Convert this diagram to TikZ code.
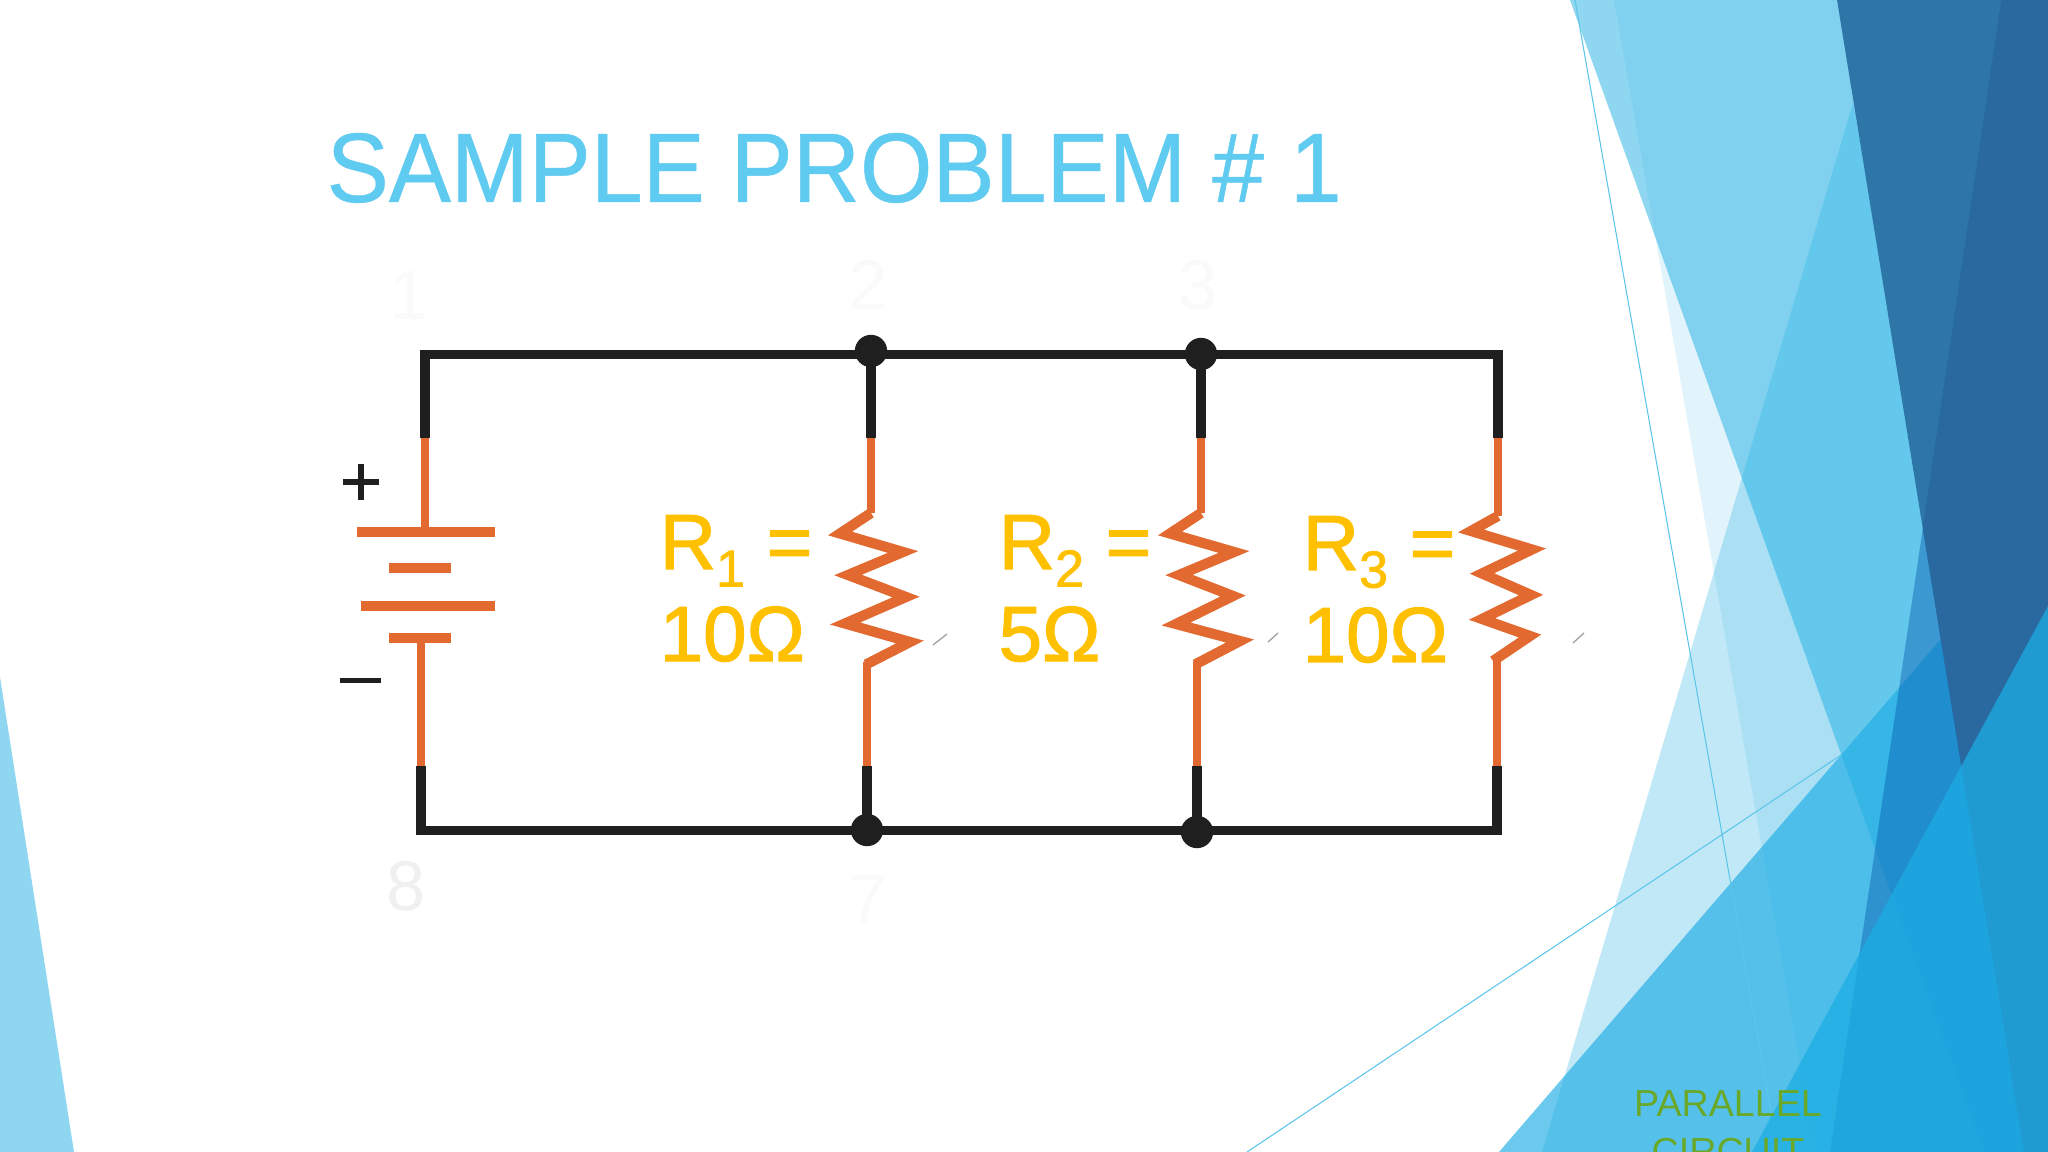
\documentclass[tikz,border=0pt]{standalone}
\usepackage{fontspec}
\setmainfont{Liberation Sans}
\newfontfamily\labelfont{Liberation Sans}[FakeBold=1.5]
\newfontfamily\titlefont{Liberation Sans}[FakeBold=0.5]
\definecolor{facetblue}{HTML}{1CADE4}
\definecolor{facetdeep}{HTML}{0457AD}
\definecolor{facetdark}{HTML}{2E76A7}
\definecolor{facetnavy}{HTML}{29699F}
\definecolor{titleblue}{HTML}{5FCBF0}
\definecolor{hairblue}{HTML}{5BC5EA}
\definecolor{wireblack}{HTML}{1F1F1F}
\definecolor{wireorange}{HTML}{E2692F}
\definecolor{labelgold}{HTML}{FFC000}
\definecolor{labelgreen}{HTML}{6AA82A}
\newcommand{\rsub}[1]{\raisebox{-5pt}{\fontsize{14.8}{15}\selectfont #1}}
\tikzset{
    facet/.style={fill=facetblue,fill opacity=#1,draw=none},
    hair/.style={draw=hairblue,line width=0.3pt},
    wire/.style={draw=wireblack,line width=2.7pt,line join=miter},
    lead/.style={draw=wireorange,line width=2.3pt},
    plate/.style={draw=wireorange,line width=3.1pt},
    zig/.style={draw=wireorange,line width=2.9pt,line join=miter},
    dot/.style={circle,fill=wireblack,minimum size=9.2pt,inner sep=0pt},
    sign/.style={draw=wireblack,line width=1.5pt},
    fleck/.style={draw=gray!70,line width=0.4pt},
    ghost/.style={font=\fontsize{20}{20}\selectfont,text=#1,inner sep=0pt},
    reslabel/.style={anchor=base west,inner sep=0pt,text=labelgold,font=\labelfont\fontsize{22.2}{24}\selectfont}
}
\begin{document}
\begin{tikzpicture}[x=0.01cm,y=-0.01cm]
    \useasboundingbox (0,0) rectangle (2048,1152);
    \fill[white] (0,0) rectangle (2048,1152);

    % facets
    \fill[facet=0.49] (0,677) -- (74,1152) -- (0,1152) -- cycle;
    \fill[facet=0.13] (1614,0) -- (1815,1152) -- (2048,1152) -- (2048,0) -- cycle;
    \fill[facet=0.49] (1570,0) -- (1837,0) -- (2048,1152) -- (1984,1152) -- cycle;
    \fill[facet=0.27] (1853,103) -- (2048,1152) -- (1542,1152) -- cycle;
    \fill[facet=0.65] (1499,1152) -- (1941,639) -- (2024,1152) -- cycle;
    \fill[facetdark] (1837,0) -- (2048,0) -- (2048,1152) -- (2024,1152) -- cycle;
    \fill[facetdeep,fill opacity=0.42] (2001.5,0) -- (2048,0) -- (2048,1152) -- (1830,1152) -- cycle;
    \fill[facetnavy] (2001.5,0) -- (2048,0) -- (2048,1152) -- (2024,1152) -- (1923,529) -- cycle;
    \draw[hair] (1575,0) -- (1778,1152);
    \draw[hair] (1247,1152) -- (1841,755);
    \fill[facet=0.74] (2048,606) -- (2048,1152) -- (1752,1152) -- cycle;

    \node[anchor=base west,inner sep=0pt,text=titleblue,font=\titlefont\fontsize{26.5}{28}\selectfont] (title) at (326,202) {\scalebox{1}[1.06]{SAMPLE PROBLEM \# 1}};
    \node[anchor=base,inner sep=0pt,text=labelgreen,font=\fontsize{10.7}{13.6}\selectfont,align=center] (tag) at (1728,1164) {PARALLEL\\CIRCUIT};

    % faint digits
    \node[ghost=black!2] (g1) at (409,295) {1};
    \node[ghost=black!2] (g2) at (868,285) {2};
    \node[ghost=black!2] (g3) at (1198,285) {3};
    \node[ghost=black!6] (g8) at (406,886) {8};
    \node[ghost=black!2] (g7) at (868,899) {7};

    % corners and junctions
    \coordinate (tl) at (425,354.5);
    \coordinate (tr) at (1498,354.5);
    \coordinate (bl) at (421,830.5);
    \coordinate (br) at (1497,830.5);
    \coordinate (t1) at (871,354.5);
    \coordinate (t2) at (1201,354.5);
    \coordinate (b1) at (867,830.5);
    \coordinate (b2) at (1197,830.5);

    \draw[wire] (421,766) -- (bl) -- (b1) -- (b2) -- (br) -- (1497,766);
    \draw[wire] (425,438) -- (tl) -- (t1) -- (t2) -- (tr) -- (1498,438);
    \draw[wire] (t1) -- (871,438);
    \draw[wire] (t2) -- (1201,438);
    \draw[wire] (b1) -- (867,766);
    \draw[wire] (b2) -- (1197,766);
    \node[dot] (n1) at (871,351) {};
    \node[dot] (n2) at (1201,354) {};
    \node[dot] (n3) at (867,830) {};
    \node[dot] (n4) at (1197,832) {};

    % battery
    \draw[lead] (425,438) -- (425,530);
    \draw[plate] (357,532) -- (495,532);
    \draw[plate] (389,568) -- (451,568);
    \draw[plate] (361,606) -- (495,606);
    \draw[plate] (389,638) -- (451,638);
    \draw[lead] (421,638) -- (421,766);
    \draw[sign] (343,482) -- (379,482);
    \draw[sign] (361,464) -- (361,500);
    \draw[sign] (340,680.5) -- (381,680.5);

    % resistors
    \draw[lead] (871,438) -- (871,513);
    \draw[zig] (871,513) -- (840,533.5) -- (903,552) -- (848,575) -- (906,597) -- (845,623.5) -- (910,642) -- (866,664.5);
    \draw[lead] (867,662) -- (867,766);
    \draw[lead] (1201,438) -- (1201,513);
    \draw[zig] (1201,513) -- (1170,533.5) -- (1234,552) -- (1179,575) -- (1233,596) -- (1176,624) -- (1240,641) -- (1195,664.5);
    \draw[lead] (1197,662) -- (1197,766);
    \draw[lead] (1498,438) -- (1498,516);
    \draw[zig] (1498,516) -- (1471,531) -- (1532,549.5) -- (1482,573.5) -- (1531,595) -- (1482,619) -- (1530,636) -- (1493,661);
    \draw[lead] (1497,658) -- (1497,766);

    \foreach \x/\n/\v/\dy in {659/1/10Ω/0,998/2/5Ω/0,1302/3/10Ω/1} {
        \node[reslabel] (r\n) at (\x,569+\dy) {R\rsub{\n} =};
        \node[reslabel] (v\n) at (\x,661+\dy) {\v};
    }

    % specks
    \draw[fleck] (933,645) -- (947,634);
    \draw[fleck] (1268,642) -- (1278,633);
    \draw[fleck] (1573,643) -- (1584,633);
\end{tikzpicture}
\end{document}
